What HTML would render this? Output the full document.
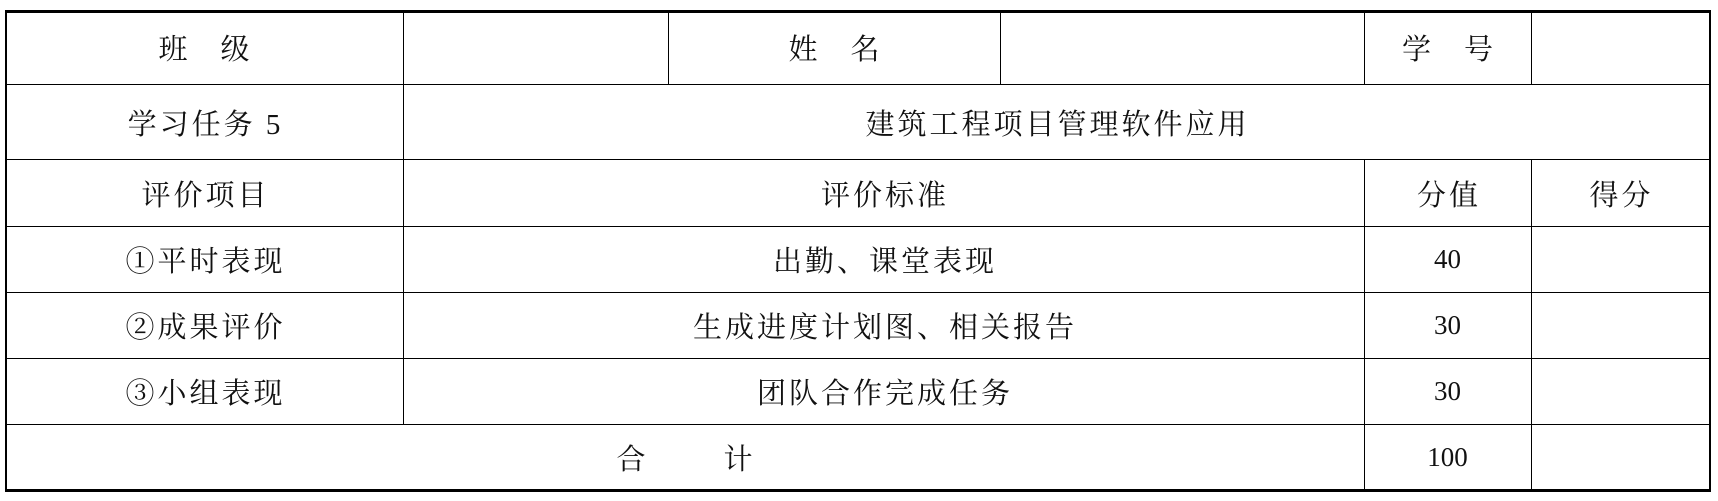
<!DOCTYPE html>
<html><head><meta charset="utf-8"><style>
body{margin:0;width:1718px;height:501px;background:#fff;position:relative;overflow:hidden;font-family:"Liberation Serif","Noto Serif CJK SC",serif;color:#111}
.h{position:absolute;background:#000}
.t{position:absolute;display:flex;align-items:center;justify-content:center;font-size:29px;white-space:pre;letter-spacing:3px;padding-left:3px;box-sizing:border-box}
.n{letter-spacing:0;padding-left:0;font-size:27px}
.g{display:inline-block;width:30px}
.G{display:inline-block;width:75px}
</style></head><body>
<div class="h" style="left:5px;top:10px;width:1706px;height:3px"></div>
<div class="h" style="left:5px;top:84px;width:1706px;height:1px"></div>
<div class="h" style="left:5px;top:159px;width:1706px;height:1px"></div>
<div class="h" style="left:5px;top:226px;width:1706px;height:1px"></div>
<div class="h" style="left:5px;top:292px;width:1706px;height:1px"></div>
<div class="h" style="left:5px;top:358px;width:1706px;height:1px"></div>
<div class="h" style="left:5px;top:424px;width:1706px;height:1px"></div>
<div class="h" style="left:5px;top:489px;width:1706px;height:3px"></div>
<div class="h" style="left:5px;top:10px;width:2px;height:482px"></div>
<div class="h" style="left:1709px;top:10px;width:2px;height:482px"></div>
<div class="h" style="left:403px;top:10px;width:1px;height:415px"></div>
<div class="h" style="left:668px;top:10px;width:1px;height:75px"></div>
<div class="h" style="left:1000px;top:10px;width:1px;height:75px"></div>
<div class="h" style="left:1364px;top:10px;width:1px;height:75px"></div>
<div class="h" style="left:1364px;top:159px;width:1px;height:333px"></div>
<div class="h" style="left:1531px;top:10px;width:1px;height:75px"></div>
<div class="h" style="left:1531px;top:159px;width:1px;height:333px"></div>
<div class="t" style="left:5px;top:11px;width:398px;height:73px">班<span class="g"></span>级</div>
<div class="t" style="left:668px;top:11px;width:332px;height:73px">姓<span class="g"></span>名</div>
<div class="t" style="left:1364px;top:11px;width:167px;height:73px">学<span class="g"></span>号</div>
<div class="t" style="left:5px;top:85px;width:398px;height:74px">学习任务 5</div>
<div class="t" style="left:403px;top:85px;width:1306px;height:74px">建筑工程项目管理软件应用</div>
<div class="t" style="left:5px;top:160px;width:398px;height:66px">评价项目</div>
<div class="t" style="left:403px;top:160px;width:961px;height:66px">评价标准</div>
<div class="t" style="left:1364px;top:160px;width:167px;height:66px">分值</div>
<div class="t" style="left:1531px;top:160px;width:178px;height:66px">得分</div>
<div class="t" style="left:5px;top:227px;width:398px;height:65px">①平时表现</div>
<div class="t" style="left:403px;top:227px;width:961px;height:65px">出勤、课堂表现</div>
<div class="t n" style="left:1364px;top:227px;width:167px;height:65px">40</div>
<div class="t" style="left:5px;top:293px;width:398px;height:65px">②成果评价</div>
<div class="t" style="left:403px;top:293px;width:961px;height:65px">生成进度计划图、相关报告</div>
<div class="t n" style="left:1364px;top:293px;width:167px;height:65px">30</div>
<div class="t" style="left:5px;top:359px;width:398px;height:65px">③小组表现</div>
<div class="t" style="left:403px;top:359px;width:961px;height:65px">团队合作完成任务</div>
<div class="t n" style="left:1364px;top:359px;width:167px;height:65px">30</div>
<div class="t" style="left:5px;top:425px;width:1359px;height:64px">合<span class="G"></span>计</div>
<div class="t n" style="left:1364px;top:425px;width:167px;height:64px">100</div>
</body></html>
